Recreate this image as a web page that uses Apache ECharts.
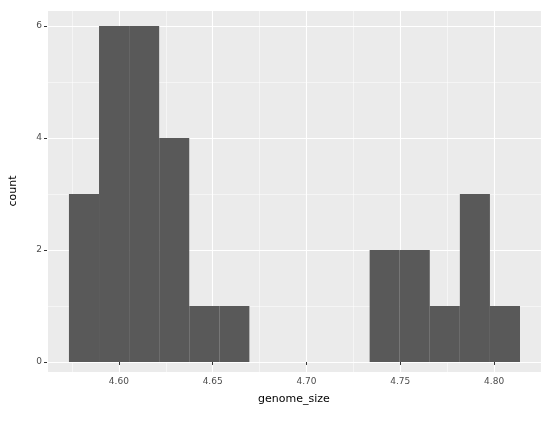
<!DOCTYPE html>
<html><head><meta charset="utf-8">
<script src="https://cdn.jsdelivr.net/npm/echarts@6/dist/echarts.min.js"></script>
<style>html,body{margin:0;padding:0;background:#fff}#c{width:551px;height:431px}</style>
</head><body><div id="c"></div>
<script>
const binStart = 4.5734;
const binWidth = 0.016027;
const counts = [3, 6, 6, 4, 1, 1, 0, 0, 0, 0, 2, 2, 1, 3, 1];
const data = counts.map((c, i) => [binStart + i * binWidth, binStart + (i + 1) * binWidth, c]).filter(d => d[2] > 0);
const chart = echarts.init(document.getElementById('c'));
const lbl = {color: '#4D4D4D', fontSize: 9, fontFamily: 'DejaVu Sans'};
chart.setOption({
  animation: false,
  grid: {left: 46, right: 10, top: 10, bottom: 59, show: true, backgroundColor: '#EBEBEB', borderWidth: 0},
  xAxis: {
    type: 'value', min: 4.5617, max: 4.825, splitNumber: 5,
    name: 'genome_size', nameLocation: 'middle', nameGap: 22,
    nameTextStyle: {fontSize: 11, color: '#000', fontFamily: 'DejaVu Sans'},
    axisLine: {show: false}, axisTick: {show: true, length: 3, lineStyle: {color: '#333'}},
    axisLabel: Object.assign({formatter: v => v.toFixed(2), showMinLabel: false, showMaxLabel: false, margin: 5}, lbl),
    splitLine: {show: true, lineStyle: {color: '#fff', width: 1.1}},
    minorTick: {show: false, splitNumber: 2},
    minorSplitLine: {show: true, lineStyle: {color: '#fff', width: 0.5}}
  },
  yAxis: {
    type: 'value', min: -0.179, max: 6.286, splitNumber: 3,
    name: 'count', nameLocation: 'middle', nameGap: 28, nameRotate: 90,
    nameTextStyle: {fontSize: 11, color: '#000', fontFamily: 'DejaVu Sans'},
    axisLine: {show: false}, axisTick: {show: true, length: 3, lineStyle: {color: '#333'}},
    axisLabel: Object.assign({formatter: v => String(Math.round(v)), showMinLabel: false, showMaxLabel: false, margin: 5}, lbl),
    splitLine: {show: true, lineStyle: {color: '#fff', width: 1.1}},
    minorSplitLine: {show: true, lineStyle: {color: '#fff', width: 0.5}},
    minorTick: {show: false, splitNumber: 2}
  },
  series: [{
    type: 'custom', data: data,
    renderItem: (params, api) => {
      const p0 = api.coord([api.value(0), 0]);
      const p1 = api.coord([api.value(1), api.value(2)]);
      return {type: 'rect', shape: {x: p0[0], y: p1[1], width: p1[0] - p0[0], height: p0[1] - p1[1]},
        style: {fill: '#595959'}};
    }
  }]
});
</script></body></html>
